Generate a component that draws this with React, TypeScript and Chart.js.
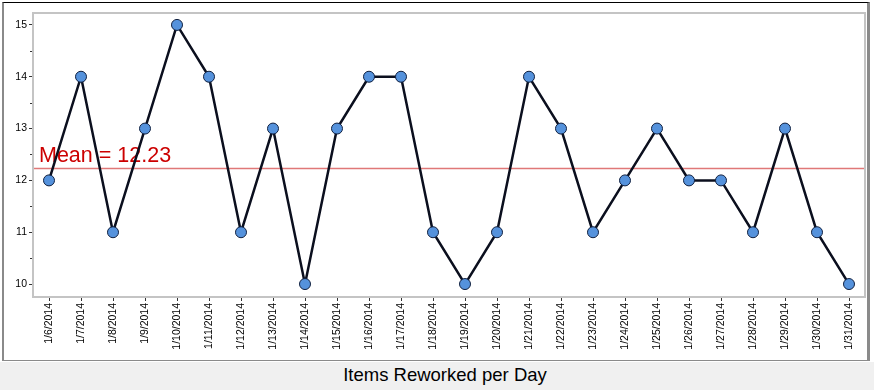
import React, { useEffect, useRef } from "react";
import { Chart, registerables } from "chart.js";

Chart.register(...registerables);

const categories = [
  "1/6/2014", "1/7/2014", "1/8/2014", "1/9/2014", "1/10/2014", "1/11/2014",
  "1/12/2014", "1/13/2014", "1/14/2014", "1/15/2014", "1/16/2014", "1/17/2014",
  "1/18/2014", "1/19/2014", "1/20/2014", "1/21/2014", "1/22/2014", "1/23/2014",
  "1/24/2014", "1/25/2014", "1/26/2014", "1/27/2014", "1/28/2014", "1/29/2014",
  "1/30/2014", "1/31/2014",
];
const itemsReworked = [12, 14, 11, 13, 15, 14, 11, 13, 10, 13, 14, 14, 11, 10, 11, 14, 13, 11, 12, 13, 12, 12, 11, 13, 11, 10];
const meanValue = 12.23;
const meanLabel = "Mean = 12.23";
const yTickValues = [10, 11, 12, 13, 14, 15];
const yMinorValues = [10.5, 11.5, 12.5, 13.5, 14.5];
const chartTitle = "Items Reworked per Day";

export default function App() {
  const ref = useRef<HTMLCanvasElement | null>(null);

  useEffect(() => {
    document.body.style.margin = "0";
    const canvas = ref.current;
    if (!canvas) return;

    const decorPlugin = {
      id: "decor",
      beforeDatasetsDraw(chart: any) {
        const { ctx, chartArea, scales } = chart;
        const y = scales.y;
        ctx.save();
        ctx.strokeStyle = "#c4c4c4";
        ctx.lineWidth = 2;
        ctx.strokeRect(chartArea.left, chartArea.top, chartArea.right - chartArea.left, chartArea.bottom - chartArea.top);
        ctx.strokeStyle = "#333";
        ctx.lineWidth = 1;
        yMinorValues.forEach((v) => {
          const py = Math.round(y.getPixelForValue(v)) + 0.5;
          ctx.beginPath();
          ctx.moveTo(chartArea.left - 3, py);
          ctx.lineTo(chartArea.left - 1, py);
          ctx.stroke();
        });
        const my = y.getPixelForValue(meanValue);
        ctx.strokeStyle = "#e07878";
        ctx.lineWidth = 1.5;
        ctx.beginPath();
        ctx.moveTo(chartArea.left + 1, my);
        ctx.lineTo(chartArea.right - 1, my);
        ctx.stroke();
        ctx.fillStyle = "#cc0000";
        ctx.font = "21.5px 'Liberation Sans', Arial, sans-serif";
        ctx.textAlign = "left";
        ctx.textBaseline = "alphabetic";
        ctx.fillText(meanLabel, chartArea.left + 6, my - 6.5);
        ctx.restore();
      },
    };

    const chart = new Chart(canvas, {
      type: "line",
      data: {
        labels: categories,
        datasets: [
          {
            data: itemsReworked,
            borderColor: "#0b0f1e",
            borderWidth: 2.5,
            pointRadius: 5.5,
            pointBackgroundColor: "#5592dc",
            pointBorderColor: "#102040",
            pointBorderWidth: 1,
            tension: 0,
          },
        ],
      },
      options: {
        animation: false,
        responsive: false,
        maintainAspectRatio: false,
        layout: { padding: { left: 0, right: 9, top: 13, bottom: 0 } },
        plugins: { legend: { display: false }, tooltip: { enabled: false }, title: { display: false } },
        scales: {
          x: {
            offset: true,
            grid: { display: true, drawOnChartArea: false, drawTicks: true, tickLength: 4, color: "#333", offset: false },
            border: { display: false },
            ticks: {
              autoSkip: false,
              maxRotation: 90,
              minRotation: 90,
              padding: 2,
              color: "#000",
              font: { family: "'Liberation Sans', Arial, sans-serif", size: 10.5 },
            },
            afterFit(scale: any) {
              scale.height = 65;
            },
          },
          y: {
            min: 9.75,
            max: 15.23,
            grid: { display: true, drawOnChartArea: false, drawTicks: true, tickLength: 4, color: "#333" },
            border: { display: false },
            ticks: {
              padding: 2,
              color: "#000",
              font: { family: "'Liberation Sans', Arial, sans-serif", size: 10.5 },
            },
            afterBuildTicks(scale: any) {
              scale.ticks = yTickValues.map((v) => ({ value: v }));
            },
            afterFit(scale: any) {
              scale.width = 33;
            },
          },
        },
      },
      plugins: [decorPlugin],
    });

    return () => chart.destroy();
  }, []);

  return (
    <div style={{ position: "fixed", left: 0, top: 0, width: 874, height: 390, background: "#fff", overflow: "hidden" }}>
      <div
        style={{
          position: "absolute",
          left: 2,
          top: 2,
          width: 868,
          height: 359,
          borderTop: "1px solid #000",
          borderLeft: "2px solid #8a8a8a",
          borderRight: "3px solid #8a8a8a",
          borderBottom: "1px solid #8a8a8a",
          boxSizing: "border-box",
        }}
      />
      <canvas ref={ref} width={874} height={362} style={{ position: "absolute", left: 0, top: 0, width: 874, height: 362 }} />
      <div
        style={{
          position: "absolute",
          left: 0,
          top: 362,
          width: 874,
          height: 28,
          background: "#f0f0f0",
        }}
      >
        <div
          style={{
            position: "absolute",
            left: 16,
            top: 1,
            width: 858,
            fontFamily: "'Liberation Sans', Arial, sans-serif",
            fontSize: 18.5,
            lineHeight: "24px",
            textAlign: "center",
            color: "#000",
          }}
        >
          {chartTitle}
        </div>
      </div>
    </div>
  );
}
